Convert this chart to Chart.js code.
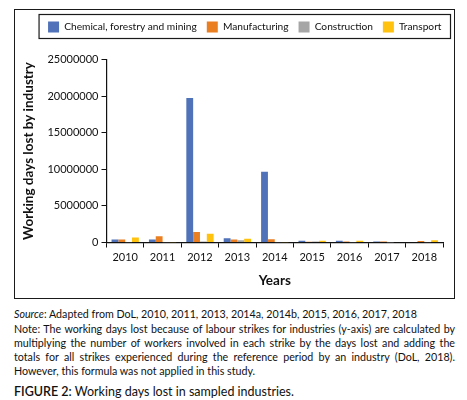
<!DOCTYPE html>
<html>
<head>
<meta charset="utf-8">
<script src="https://cdn.jsdelivr.net/npm/chart.js@4"></script>
<style>
  body { margin: 0; background: #fff; width: 467px; height: 400px; position: relative; overflow: hidden; }
  #box { position: absolute; left: 14px; top: 9px; width: 441px; height: 290px; box-sizing: border-box; border: 1.5px solid #1a1a1a; }
  #box canvas { position: absolute; left: 0; top: 0; }
  #cap { position: absolute; left: 14px; top: 307px; width: 441px; font-family: Lato; font-size: 10.7px; line-height: 14px; color: #111; }
  #cap .j { text-align: justify; text-align-last: justify; }
  #fig { margin-top: 7px; font-size: 12.5px; }
  #fig b { font-weight: 600; }
</style>
</head>
<body>
<div id="box"><canvas id="chart" width="438" height="287"></canvas></div>
<div id="cap">
  <div style="margin-bottom:1px"><i>Source</i>: Adapted from DoL, 2010, 2011, 2013, 2014a, 2014b, 2015, 2016, 2017, 2018</div>
  <div class="j">Note: The working days lost because of labour strikes for industries (y-axis) are calculated by</div>
  <div class="j">multiplying the number of workers involved in each strike by the days lost and adding the</div>
  <div class="j">totals for all strikes experienced during the reference period by an industry (DoL, 2018).</div>
  <div>However, this formula was not applied in this study.</div>
  <div id="fig"><b>FIGURE 2:</b> Working days lost in sampled industries.</div>
</div>
<script>
const years = ['2010', '2011', '2012', '2013', '2014', '2015', '2016', '2017', '2018']
const chemical = [400000, 420000, 19750000, 590000, 9660000, 230000, 230000, 150000, 80000]
const manufacturing = [400000, 870000, 1420000, 410000, 450000, 100000, 120000, 150000, 200000]
const construction = [20000, 50000, 120000, 320000, 30000, 150000, 20000, 10000, 30000]
const transport = [680000, 20000, 1190000, 500000, 50000, 230000, 250000, 80000, 300000]
const yTicks = [0, 5000000, 10000000, 15000000, 20000000, 25000000]

const FONT = 'Lato'

// draws the thin frame round the legend
const legendFrame = {
  id: 'legendFrame',
  afterDraw(chart) {
    const boxes = chart.legend.legendHitBoxes
    if (!boxes || !boxes.length) return
    const first = boxes[0], last = boxes[boxes.length - 1]
    const ctx = chart.ctx
    ctx.save()
    ctx.strokeStyle = '#1a1a1a'
    ctx.lineWidth = 1.2
    ctx.strokeRect(first.left - 9, first.top - 7, last.left + last.width + 18 - first.left, first.height + 13)
    ctx.restore()
  }
}

new Chart('chart', {
  type: 'bar',
  data: {
    labels: years,
    datasets: [
      { label: 'Chemical, forestry and mining', data: chemical, backgroundColor: '#4F72B8' },
      { label: 'Manufacturing', data: manufacturing, backgroundColor: '#EA7F22' },
      { label: 'Construction', data: construction, backgroundColor: '#A6A6A6' },
      { label: 'Transport', data: transport, backgroundColor: '#FFC20E' }
    ]
  },
  options: {
    responsive: false,
    animation: false,
    layout: { padding: { left: 0, right: 1.5, top: 1.5, bottom: 0 } },
    datasets: { bar: { categoryPercentage: 0.73, barPercentage: 1 } },
    plugins: {
      tooltip: { enabled: false },
      legend: {
        position: 'top',
        align: 'end',
        labels: { boxWidth: 11, boxHeight: 11, padding: 10, color: '#111', font: { family: FONT, size: 10.2 } }
      },
      // empty subtitle only keeps a gap between legend and plot
      subtitle: { display: true, text: '', weight: 0, font: { size: 10 }, padding: { top: 0, bottom: 5 } }
    },
    scales: {
      x: {
        grid: { offset: true, drawOnChartArea: false, drawTicks: true, tickLength: 5, color: '#111' },
        border: { color: '#111', width: 1.2 },
        ticks: { color: '#111', padding: 3, font: { family: FONT, size: 11 } },
        title: { display: true, text: 'Years', color: '#111', font: { family: FONT, size: 13.5, weight: 'bold' }, padding: { top: 0, bottom: 8 } },
        afterFit(s) { s.height = 54.5; s.paddingRight = 10 }
      },
      y: {
        min: 0, max: 25000000,
        afterBuildTicks(s) { s.ticks = yTicks.map(v => ({ value: v })) },
        grid: { drawOnChartArea: false, drawTicks: true, tickLength: 5, color: '#111' },
        border: { color: '#111', width: 1.2 },
        ticks: { color: '#111', padding: 3, font: { family: FONT, size: 11 }, callback: v => String(v) },
        title: { display: true, text: 'Working days lost by industry', color: '#111', font: { family: FONT, size: 13.5, weight: 'bold' }, padding: { top: 6, bottom: 0 } },
        afterFit(s) { s.width = 91.5 }
      }
    }
  },
  plugins: [legendFrame]
})
</script>
</body>
</html>
